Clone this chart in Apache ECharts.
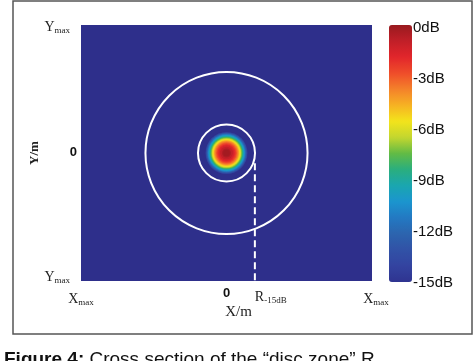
<!DOCTYPE html>
<html><head><meta charset="utf-8">
<script src="https://cdn.jsdelivr.net/npm/echarts@6/dist/echarts.min.js"></script>
<style>html,body{margin:0;padding:0;background:#fff}#c{width:474px;height:361px}</style>
</head><body><div id="c"></div>
<script>
// ---- data ----
const xTickValues = [-100, 0, 100];
const xTickLabels = ['X_max', '0', 'X_max'];
const yTickValues = [-100, 0, 100];
const yTickLabels = ['Y_max', '0', 'Y_max'];
const rValue = 19.5;              // R-15dB position on X
const rLabel = 'R_-15dB';
const dashStartY = -8;
const circleRadii = [19.6, 55.7]; // inner, outer (x units)
const blobCenter = [0, 0];
// field level (dB) contour radii (x units), outermost first
const blobLevels = [-14.5,-14,-13.5,-13,-12.5,-12,-11.5,-11,-10.5,-10,-9.5,-9,-8.5,-8,-7.5,-7,-6.5,-6,-5.5,-5,-4.5,-4,-3.5,-3,-2.5,-2,-1.5,-1,-0.5,-0.25];
const blobRadii  = [14.5,14.25,14.0,13.75,13.5,13.25,13.0,12.75,12.45,12.15,11.85,11.55,11.25,10.95,10.65,10.35,10.0,9.7,9.35,9.0,8.6,8.2,7.75,7.25,6.7,6.05,5.3,4.35,3.1,2.2];
const cbMin = -15, cbMax = 0, cbStep = 3;
const cbColors = ['#2f3490','#3343a0','#3152a6','#2c64ae','#2379c2','#1b95cf','#1aa6b0','#2aae7e','#62bb45','#c3d62f','#f3e41b','#f6b223','#f4812a','#ef4d2a','#e2262b','#c11f28','#981a1f'];
const captionBold = 'Figure 4:';
const captionRest = ' Cross section of the \u201cdisc zone\u201d R';

function richLabel(s, variant) {
  if (s.indexOf('_') >= 0) {
    const p = s.split('_');
    const pre = variant ? '{gap' + variant + '|}\n' : '';
    const b = variant === 'R' ? 'br' : 'b';
    return pre + '{' + b + '|' + p[0] + '}{s|' + p[1] + '}';
  }
  return '{z|' + s + '}';
}
const serif = 'Liberation Serif';
const rich = {
  b: { fontFamily: serif, fontSize: 14, color: '#222', lineHeight: 14, verticalAlign: 'top' },
  br: { fontFamily: serif, fontSize: 14, color: '#222', lineHeight: 14, verticalAlign: 'top', padding: [0, 0, 0, 8] },
  s: { fontFamily: serif, fontSize: 9, color: '#222', lineHeight: 22 },
  z: { fontFamily: 'Liberation Sans', fontWeight: 'bold', fontSize: 13, color: '#111', lineHeight: 14, verticalAlign: 'top' },
  gapX: { lineHeight: 5, fontSize: 1 },
  gapR: { lineHeight: 5, fontSize: 1 },
  gapY: { lineHeight: 12, fontSize: 1 }
};

const chart = echarts.init(document.getElementById('c'));
const G = { left: 81, top: 25, width: 291, height: 256 };
chart.setOption({
  animation: false,
  backgroundColor: '#fff',
  grid: [
    Object.assign({ show: true, backgroundColor: '#2e2f8b', borderWidth: 0 }, G),
    { left: 389, top: 28, width: 23, height: 255, show: false }
  ],
  xAxis: [
    { type: 'value', gridIndex: 0, min: -100, max: 100,
      axisLine: { show: false }, axisTick: { show: false }, splitLine: { show: false },
      axisLabel: { customValues: xTickValues, margin: 6, rich: rich,
        formatter: v => {
          const s = xTickLabels[xTickValues.indexOf(v)];
          return richLabel(s, v === 0 ? '' : (v > 0 ? 'R' : 'X'));
        } },
      name: 'X/m', nameLocation: 'middle', nameGap: 24, nameMoveOverlap: false,
      nameTextStyle: { fontFamily: serif, fontSize: 15, color: '#222', padding: [0, 0, 0, 24] } },
    { type: 'value', gridIndex: 0, min: -100, max: 100, position: 'bottom',
      axisLine: { show: false }, axisTick: { show: false }, splitLine: { show: false },
      axisLabel: { customValues: [rValue], margin: 9, align: 'left', rich: rich,
        formatter: () => richLabel(rLabel) } },
    { type: 'value', gridIndex: 1, show: false, min: 0, max: 1 }
  ],
  yAxis: [
    { type: 'value', gridIndex: 0, min: -100, max: 100,
      axisLine: { show: false }, axisTick: { show: false }, splitLine: { show: false },
      axisLabel: { customValues: yTickValues, margin: 4,
        rich: Object.assign({}, rich, { s: Object.assign({}, rich.s, { padding: [0, 7, 0, 0] }) }),
        formatter: v => richLabel(yTickLabels[yTickValues.indexOf(v)], v > 0 ? 'Y' : '') },
      name: 'Y/m', nameLocation: 'middle', nameGap: 40, nameMoveOverlap: false,
      nameTextStyle: { fontFamily: serif, fontWeight: 'bold', fontSize: 13, color: '#222' } },
    { type: 'value', gridIndex: 1, min: cbMin, max: cbMax, interval: cbStep, position: 'right',
      axisLine: { show: false }, axisTick: { show: false }, splitLine: { show: false },
      axisLabel: { margin: 1, formatter: '{value}dB', fontFamily: 'Liberation Sans', fontSize: 15, color: '#111' } }
  ],
  visualMap: {
    type: 'continuous', min: cbMin, max: cbMax, dimension: 3, seriesIndex: 0,
    left: 389, top: 25, itemWidth: 23, itemHeight: 257, padding: 0,
    calculable: false, hoverLink: false, text: null, showLabel: false,
    inRange: { color: cbColors }
  },
  series: [
    { type: 'custom', xAxisIndex: 0, yAxisIndex: 0, silent: true,
      data: blobLevels.map((v, i) => [blobCenter[0], blobCenter[1], blobRadii[i], v]),
      renderItem: (params, api) => {
        const c = api.coord([api.value(0), api.value(1)]);
        const r = api.size([api.value(2), 0])[0];
        return { type: 'circle', shape: { cx: c[0], cy: c[1], r: r }, style: { fill: api.visual('color') } };
      } },
    { type: 'custom', xAxisIndex: 0, yAxisIndex: 0, silent: true,
      data: circleRadii.map(r => [blobCenter[0], blobCenter[1], r]),
      renderItem: (params, api) => {
        const c = api.coord([api.value(0), api.value(1)]);
        const r = api.size([api.value(2), 0])[0];
        return { type: 'circle', shape: { cx: c[0], cy: c[1], r: r }, style: { fill: 'none', stroke: '#fff', lineWidth: 2 } };
      } },
    { type: 'line', xAxisIndex: 0, yAxisIndex: 0, silent: true, symbol: 'none',
      data: [[rValue, dashStartY], [rValue, -100]],
      lineStyle: { color: '#fff', width: 2, type: [7, 4] } }
  ],
  graphic: [
    { type: 'rect', shape: { x: 13, y: 1, width: 459, height: 333 }, style: { fill: 'none', stroke: '#555', lineWidth: 1.5 }, silent: true },
    { type: 'text', left: 4, top: 350, silent: true,
      style: { text: '{h|' + captionBold + '}{n|' + captionRest + '}',
        rich: { h: { fontFamily: 'Liberation Sans', fontWeight: 'bold', fontSize: 19, fill: '#111' },
                n: { fontFamily: 'Liberation Sans', fontSize: 19, fill: '#111' } } } }
  ]
});
</script></body></html>
